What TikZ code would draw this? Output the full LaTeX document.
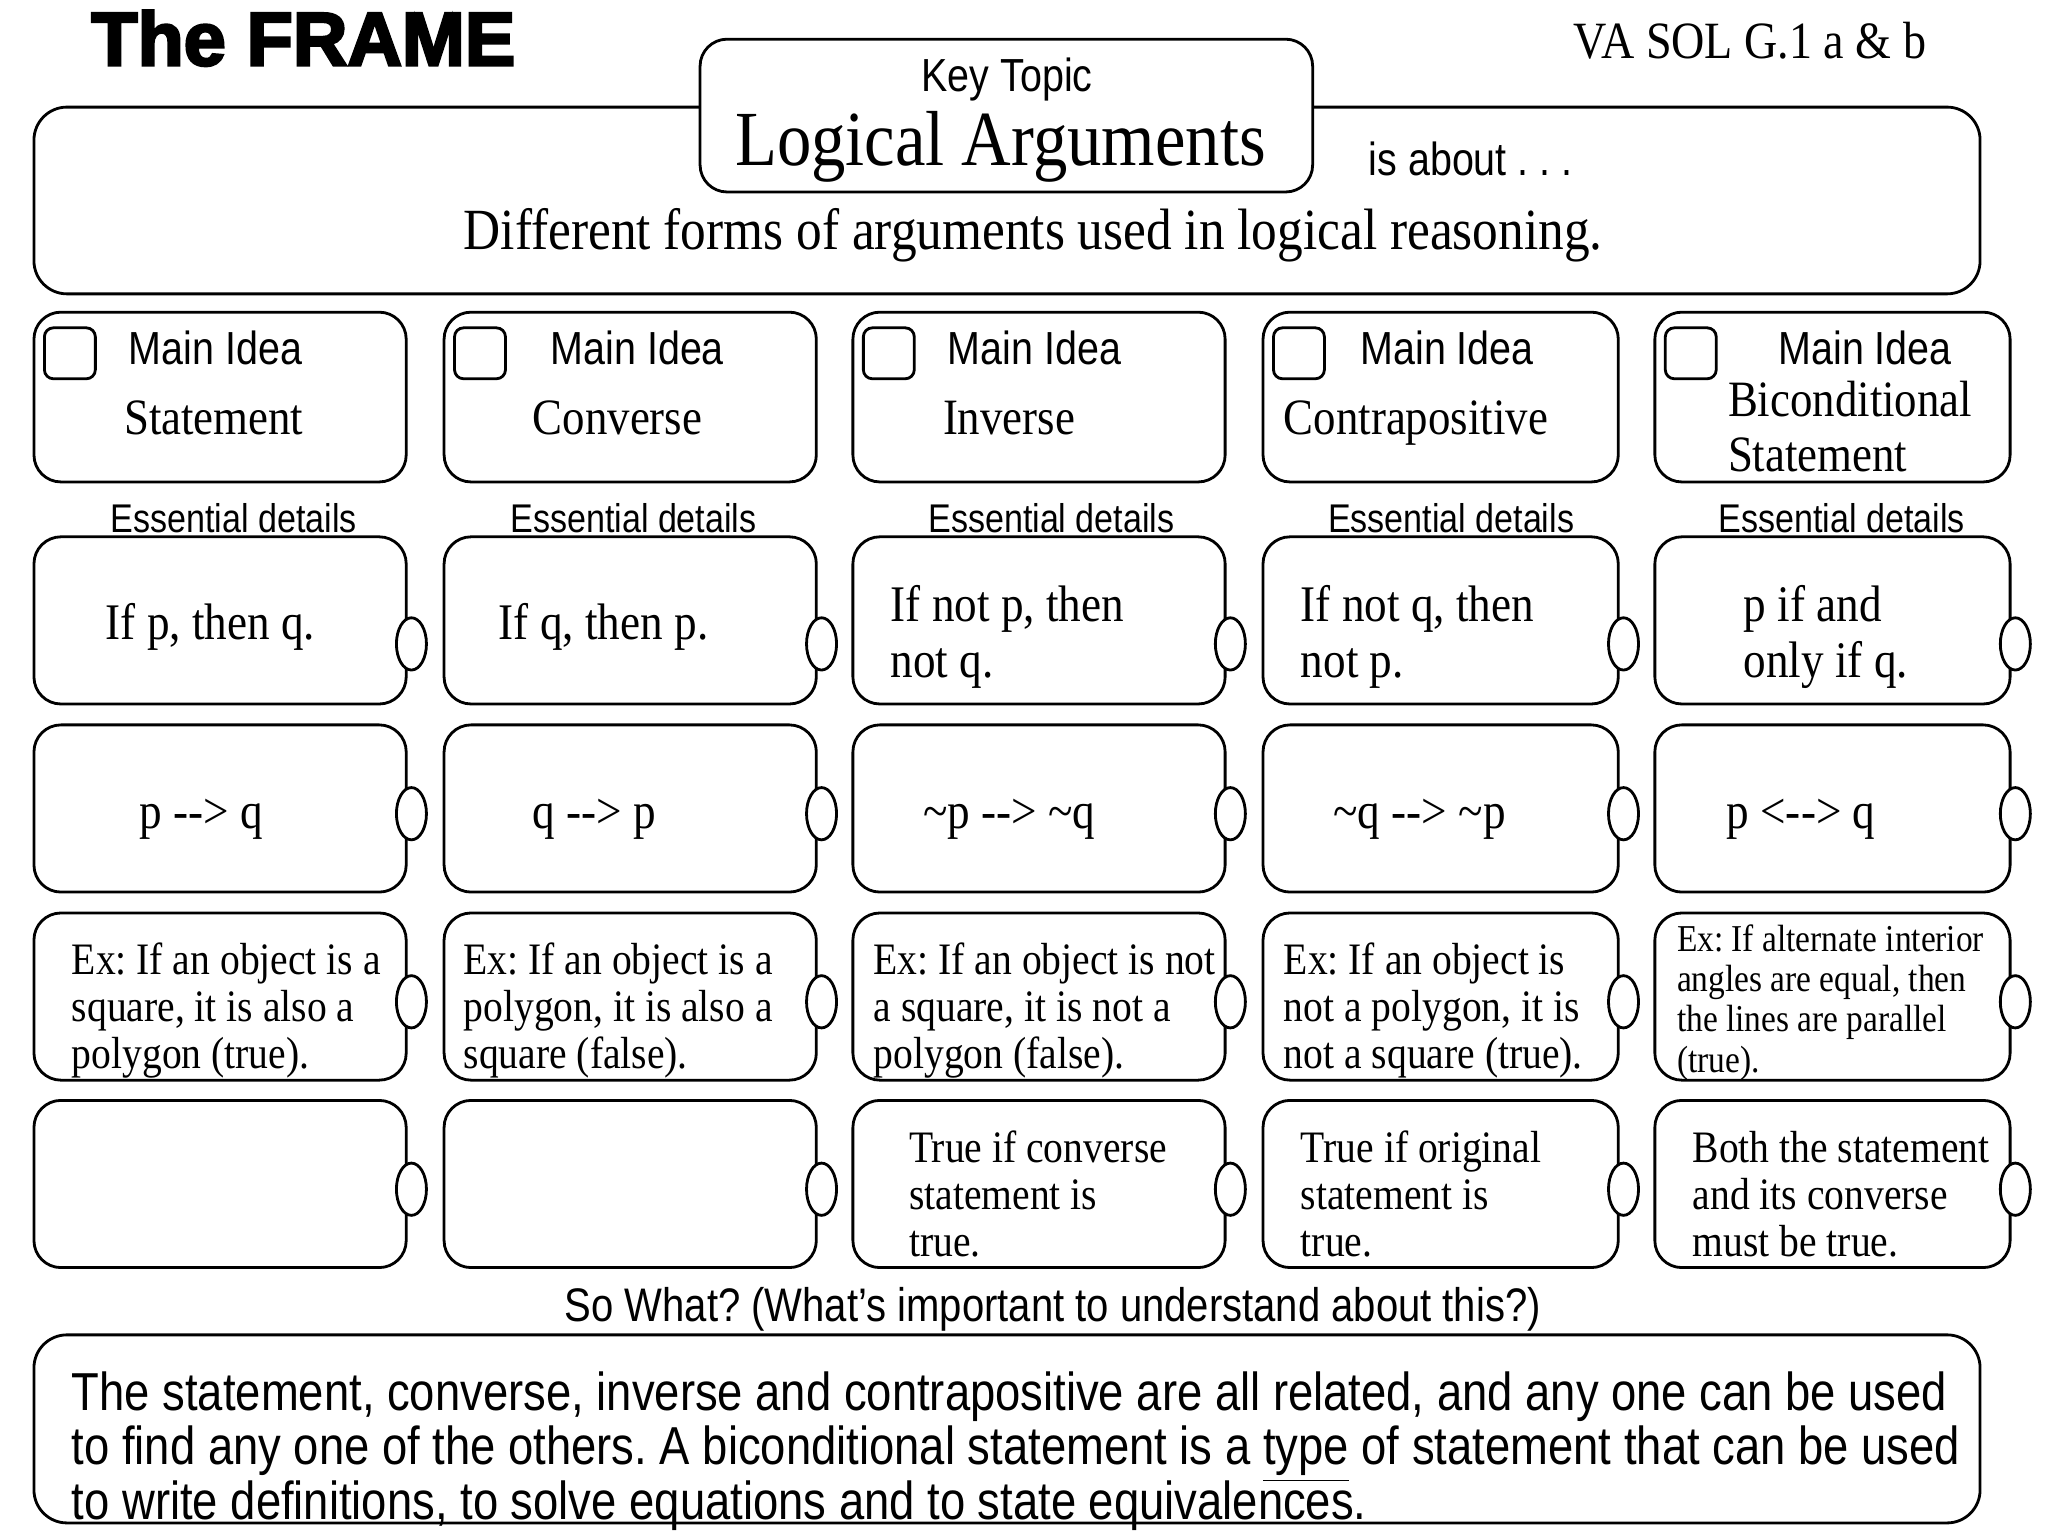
\documentclass[tikz,border=0pt]{standalone}
\usepackage{fontspec}
\setmainfont{Liberation Serif}[FakeStretch=0.88]
\setsansfont{Liberation Sans}[FakeStretch=0.85]
\newfontfamily\titlefont{Liberation Sans}[BoldFeatures={FakeBold=3.5}]
\usetikzlibrary{shapes.geometric}
\frenchspacing
\newcommand\fsz[2]{\fontsize{#1}{#2}\selectfont}
\newcommand\tld{\textasciitilde}
\tikzset{
  frame/.style={draw, line width=0.8pt, fill=white, inner sep=0pt, outer sep=0pt},
  bigbox/.style={frame, rounded corners=0.33cm, minimum width=1490*0.013061cm, minimum height=#1*0.013061cm},
  cell/.style={frame, rounded corners=0.27cm, minimum width=#1*0.013061cm, minimum height=128*0.013061cm},
  headcell/.style={frame, rounded corners=0.27cm, minimum width=#1*0.013061cm, minimum height=130*0.013061cm},
  oval/.style={ellipse, draw, line width=0.8pt, fill=white, inner sep=0pt, minimum width=23*0.013061cm, minimum height=40*0.013061cm},
  chk/.style={frame, rounded corners=0.09cm, minimum width=39*0.013061cm, minimum height=39*0.013061cm},
  txt/.style={inner sep=0pt, outer sep=0pt},
  lbl/.style={txt, anchor=base west, align=left},
  mi/.style={txt, anchor=base, font=\sffamily\fsz{13.2}{15}},
  ess/.style={txt, anchor=base, font=\sffamily\fsz{11.4}{13}},
  term/.style={lbl, font=\fsz{14.5}{15.6}},
  rowa/.style={lbl, font=\fsz{14.6}{16}},
  rowc/.style={lbl, font=\fsz{12.8}{13.35}},
  rowd/.style={lbl, font=\fsz{12.8}{13.35}},
}
\begin{document}
\begin{tikzpicture}[x=0.013061cm, y=-0.013061cm]
\useasboundingbox (0,0) rectangle (1568,1176);

% header
\node[txt, anchor=base west, font=\titlefont\bfseries\fsz{21.5}{23}] (title) at (70,50) {The FRAME};
\node[txt, anchor=base west, font=\fsz{14.9}{16}] (sol) at (1205,45) {VA SOL G.1 a \& b};

\node[bigbox=143] (about) at (771,153.5) {};
\node[frame, rounded corners=0.27cm, minimum width=469*0.013061cm, minimum height=117*0.013061cm] (key) at (770.5,88.5) {};
\node[txt, anchor=base, font=\sffamily\fsz{13.2}{15}] (keylbl) at (771,70) {Key Topic};
\node[txt, anchor=base, font=\fsz{22.2}{24}] (topic) at (766,127) {Logical Arguments};
\node[txt, anchor=base west, font=\sffamily\fsz{13.2}{15}] (isabout) at (1048,134) {is about . . .};
\node[txt, anchor=base, font=\fsz{16.6}{18}] (desc) at (791,191) {Different forms of arguments used in logical reasoning.};

% row 0: main ideas
\node[headcell=285] (h1) at (168.5,304) {};
\node[headcell=285] (h2) at (482.5,304) {};
\node[headcell=285] (h3) at (795.5,304) {};
\node[headcell=272] (h4) at (1103,304) {};
\node[headcell=272] (h5) at (1403,304) {};
\node[chk] (k1) at ([shift={(27.5,31.5)}]h1.north west) {};
\node[chk] (k2) at ([shift={(27.5,31.5)}]h2.north west) {};
\node[chk] (k3) at ([shift={(27.5,31.5)}]h3.north west) {};
\node[chk] (k4) at ([shift={(27.5,31.5)}]h4.north west) {};
\node[chk] (k5) at ([shift={(27.5,31.5)}]h5.north west) {};
\node[mi] (m1) at (165,279) {Main Idea};
\node[mi] (m2) at (488,279) {Main Idea};
\node[mi] (m3) at (792,279) {Main Idea};
\node[mi] (m4) at (1108,279) {Main Idea};
\node[mi] (m5) at (1428,279) {Main Idea};
\node[term] (t1) at (95,333) {Statement};
\node[term] (t2) at (408,333) {Converse};
\node[term] (t3) at (722,333) {Inverse};
\node[term] (t4) at (983,333) {Contrapositive};
\node[term] (t5) at (1323,361) {Biconditional\\Statement};

% essential details labels
\node[ess] (e1) at (179,408) {Essential details};
\node[ess] (e2) at (485,408) {Essential details};
\node[ess] (e3) at (805,408) {Essential details};
\node[ess] (e4) at (1111,408) {Essential details};
\node[ess] (e5) at (1410,408) {Essential details};

% cells rows 1-4
\foreach \r/\cy/\dy in {1/475/18, 2/619/4, 3/763/4, 4/906.5/4}{
  \node[cell=285] (b\r1) at (168.5,\cy) {};
  \node[cell=285] (b\r2) at (482.5,\cy) {};
  \node[cell=285] (b\r3) at (795.5,\cy) {};
  \node[cell=272] (b\r4) at (1103,\cy) {};
  \node[cell=272] (b\r5) at (1403,\cy) {};
  \foreach \c in {1,...,5}{
    \node[oval] (o\r\c) at ([shift={(4,\dy)}]b\r\c.east) {};
  }
}

% row 1 text
\node[rowa] (a1) at (81,490) {If p, then q.};
\node[rowa] (a2) at (382,490) {If q, then p.};
\node[rowa] (a3) at (682,519) {If not p, then\\not q.};
\node[rowa] (a4) at (996,519) {If not q, then\\not p.};
\node[rowa] (a5) at (1335,519) {p if and\\only if q.};

% row 2 text
\node[rowa] (s1) at (107,634) {p -{}-> q};
\node[rowa] (s2) at (408,634) {q -{}-> p};
\node[rowa] (s3) at (707,634) {\tld p -{}-> \tld q};
\node[rowa] (s4) at (1021,634) {\tld q -{}-> \tld p};
\node[rowa] (s5) at (1322,634) {p <-{}-> q};

% row 3 text
\node[rowc] (x1) at (55,818) {Ex: If an object is a\\square, it is also a\\polygon (true).};
\node[rowc] (x2) at (355,818) {Ex: If an object is a\\polygon, it is also a\\square (false).};
\node[rowc] (x3) at (669,818) {Ex: If an object is not\\a square, it is not a\\polygon (false).};
\node[rowc] (x4) at (983,818) {Ex: If an object is\\not a polygon, it is\\not a square (true).};
\node[lbl, font=\fsz{10.8}{11.5}] (x5) at (1284,821) {Ex: If alternate interior\\angles are equal, then\\the lines are parallel\\(true).};

% row 4 text
\node[rowd] (w3) at (696,962) {True if converse\\statement is\\true.};
\node[rowd] (w4) at (996,962) {True if original\\statement is\\true.};
\node[rowd] (w5) at (1296,962) {Both the statement\\and its converse\\must be true.};

% so what
\node[txt, anchor=base, font=\sffamily\fsz{13.4}{15}] (sowhat) at (806,1012) {So What? (What’s important to understand about this?)};
\node[bigbox=144] (summary) at (771,1094) {};
\node[lbl, font=\sffamily\fsz{15.2}{15.5}] (sumtxt) at (55,1163) {The statement, converse, inverse and contrapositive are all related, and any one can be used\\to find any one of the others. A biconditional statement is a \smash{\underline{type}} of statement that can be used\\to write definitions, to solve equations and to state equivalences.};
\end{tikzpicture}
\end{document}
